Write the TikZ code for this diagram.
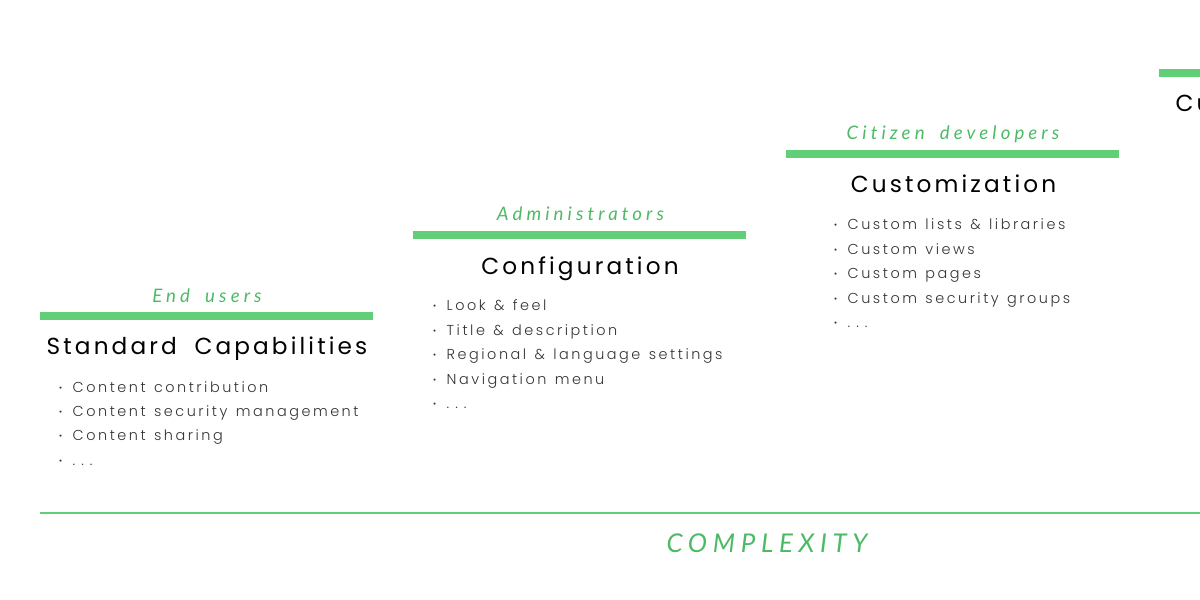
\documentclass[tikz,border=0pt]{standalone}
\usepackage{fontspec}
\setmainfont{Poppins}
\newfontfamily\headfont[LetterSpace=13.5,WordSpace=1.9]{Poppins}
\newfontfamily\itemfont[LetterSpace=17.5,WordSpace=1.3,Ligatures=NoCommon]{Poppins Light}
\newfontfamily\handfont[LetterSpace=22,WordSpace=1.8,Ligatures=NoCommon,ItalicFont={Lato Italic}]{Lato}
\usetikzlibrary{positioning}
\definecolor{stepgreen}{RGB}{98,207,120}
\definecolor{handgreen}{RGB}{76,186,100}
\newcommand{\moredots}{.\kern1.7pt.\kern1.7pt.}
\tikzset{
  stepbar/.style={fill=stepgreen,inner sep=0pt,minimum width=3.33cm,minimum height=.08cm,anchor=north west},
  role/.style={text=handgreen,font=\fontsize{5.3}{6}\handfont\itshape,inner sep=0pt,anchor=base},
  title/.style={text=black,font=\fontsize{6.6}{8}\headfont,inner sep=0pt,anchor=base},
  entry/.style={text=black!80,font=\fontsize{4.1}{6}\itemfont,inner sep=0pt,anchor=base west},
}

\begin{document}
\begin{tikzpicture}
\useasboundingbox (0,0) rectangle (12,6);

%axis
\draw[stepgreen,line width=.02cm] (.4,.87) -- (12,.87);
\node[text=handgreen,font=\fontsize{7.35}{8}\handfont\itshape,inner sep=0pt,anchor=base] (complexity) at (7.67,.47) {COMPLEXITY};

%step 1
\node[stepbar] (bar1) at (.395,2.885) {};
\node[role] (role1) at (2.07,2.98) {End users};
\node[title] (title1) at (2.07,2.45) {Standard Capabilities};
\foreach \name/\txt [count=\i from 0] in {a/Content contribution,b/Content security management,c/Content sharing,d/\moredots}{
  \node[entry] (dot1\name) at (.56,2.08-.244*\i) {$\cdot$};
  \node[entry] (item1\name) at (.72,2.08-.244*\i) {\txt};
}

%step 2
\node[stepbar] (bar2) at (4.125,3.695) {};
\node[role] (role2) at (5.805,3.79) {Administrators};
\node[title] (title2) at (5.8,3.26) {Configuration};
\foreach \name/\txt [count=\i from 0] in {a/Look \& feel,b/Title \& description,c/Regional \& language settings,d/Navigation menu,e/\moredots}{
  \node[entry] (dot2\name) at (4.3,2.89-.244*\i) {$\cdot$};
  \node[entry] (item2\name) at (4.46,2.89-.244*\i) {\txt};
}

%step 3
\node[stepbar] (bar3) at (7.855,4.505) {};
\node[role] (role3) at (9.53,4.6) {Citizen developers};
\node[title] (title3) at (9.535,4.07) {Customization};
\foreach \name/\txt [count=\i from 0] in {a/Custom lists \& libraries,b/Custom views,c/Custom pages,d/Custom security groups,e/\moredots}{
  \node[entry] (dot3\name) at (8.31,3.7-.244*\i) {$\cdot$};
  \node[entry] (item3\name) at (8.47,3.7-.244*\i) {\txt};
}

%step 4
\node[stepbar,minimum width=.415cm] (bar4) at (11.585,5.315) {};
\node[title,anchor=base west] (title4) at (11.75,4.88) {Cu};

\end{tikzpicture}
\end{document}
